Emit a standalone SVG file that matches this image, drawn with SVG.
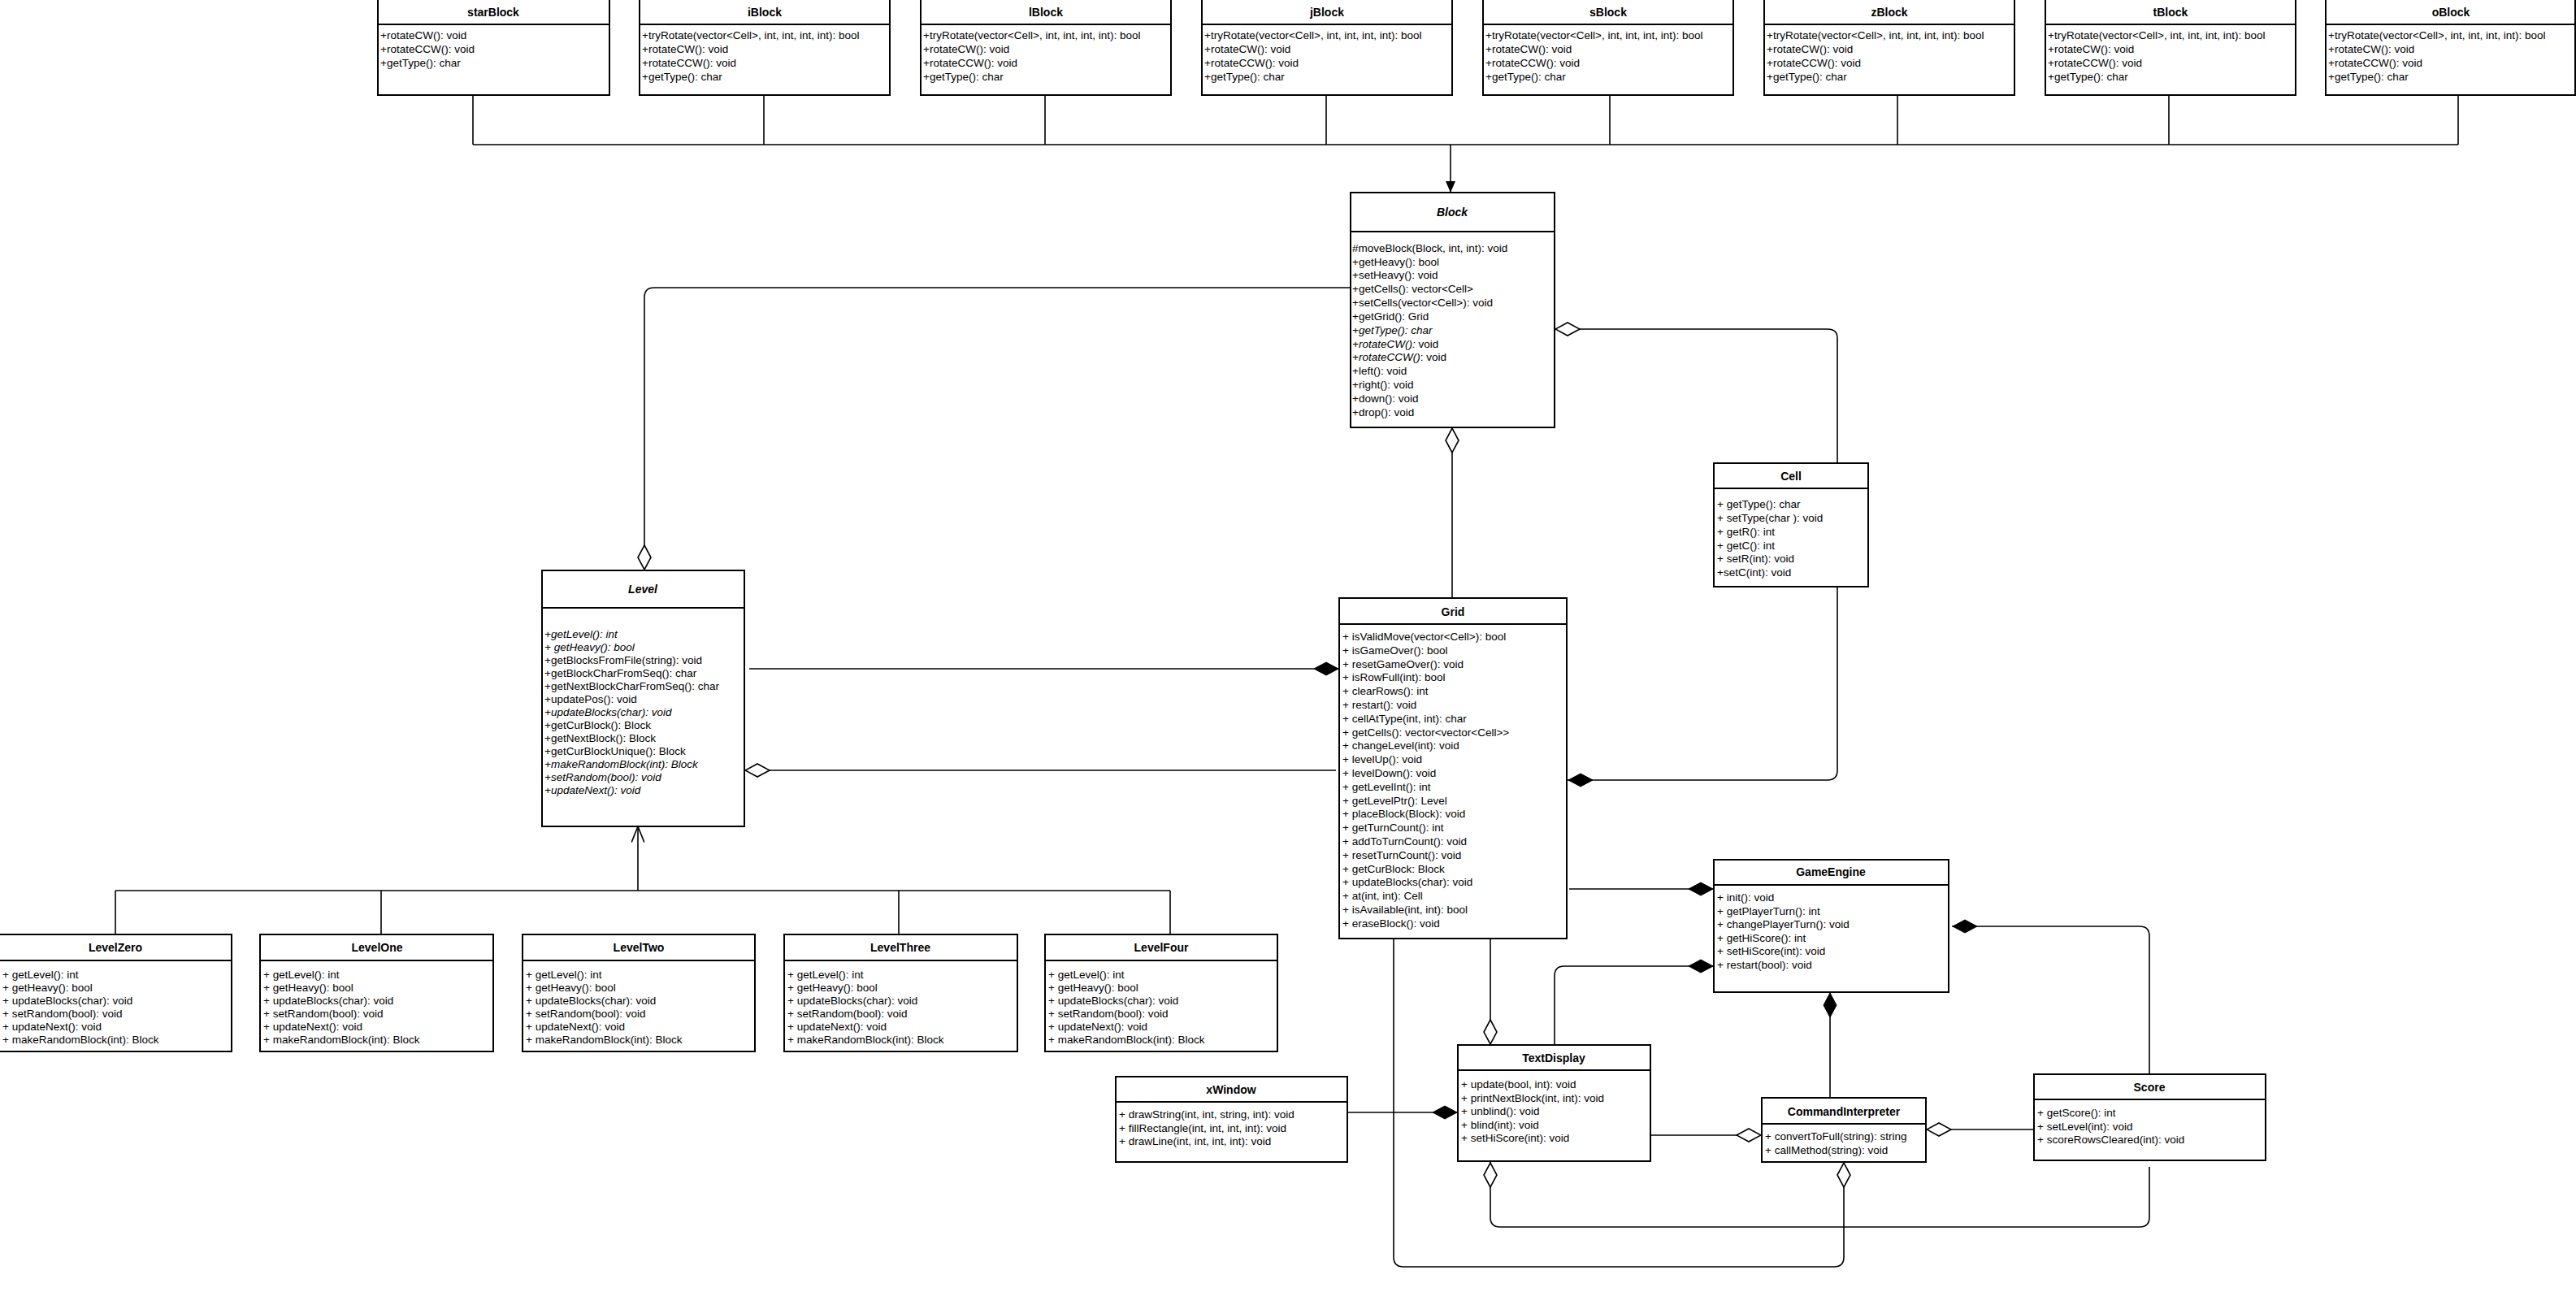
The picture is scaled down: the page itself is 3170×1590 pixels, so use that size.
<svg xmlns="http://www.w3.org/2000/svg" width="3170" height="1590" viewBox="0 0 3170 1590">
<style>
rect.c{fill:#fff;stroke:#000;stroke-width:2}
line.s{stroke:#000;stroke-width:2}
text{font-family:"Liberation Sans",Arial,sans-serif;font-size:13.5px;fill:#000}
text.t{font-weight:bold;font-size:14px;text-anchor:middle}
.i{font-style:italic}
#conn path{fill:none;stroke:#000;stroke-width:1.6}
</style>
<defs>
<marker id="fd" viewBox="0 0 32 18" refX="32" refY="9" markerWidth="32" markerHeight="18" markerUnits="userSpaceOnUse" orient="auto"><path d="M1,9 L16,1 L31,9 L16,17 Z" fill="#000" stroke="#000"/></marker>
<marker id="hd" viewBox="0 0 32 18" refX="32" refY="9" markerWidth="32" markerHeight="18" markerUnits="userSpaceOnUse" orient="auto"><path d="M1,9 L16,1 L31,9 L16,17 Z" fill="#fff" stroke="#000" stroke-width="1.6"/></marker>
<marker id="ar" viewBox="0 0 14 12" refX="14" refY="6" markerWidth="14" markerHeight="12" markerUnits="userSpaceOnUse" orient="auto"><path d="M0,0 L14,6 L0,12 Z" fill="#000"/></marker>
<marker id="oa" viewBox="0 0 20 16" refX="20" refY="8" markerWidth="20" markerHeight="16" markerUnits="userSpaceOnUse" orient="auto"><path d="M0,0 L20,8 L0,16" fill="none" stroke="#000" stroke-width="1.6"/></marker>
</defs>
<rect width="3170" height="1590" fill="#fff"/>
<g id="conn">
<path d="M582,117 V178 M940,117 V178 M1286,117 V178 M1632,117 V178 M1981,117 V178 M2335,117 V178 M2669,117 V178 M3025,117 V178 M582,178 H3025"/>
<path d="M1785,178 V237" marker-end="url(#ar)"/>
<path d="M1662,354 H805 Q793,354 793,366 V702" marker-end="url(#hd)"/>
<path d="M2261,570 V416 Q2261,405 2249,405 H1913" marker-end="url(#hd)"/>
<path d="M1787,736 V526" marker-end="url(#hd)"/>
<path d="M2261,722 V948 Q2261,960 2249,960 H1929" marker-end="url(#fd)"/>
<path d="M922,823 H1648" marker-end="url(#fd)"/>
<path d="M1644,948 H916" marker-end="url(#hd)"/>
<path d="M785,1096 V1017" marker-end="url(#oa)"/>
<path d="M142,1096 H1440 M142,1096 V1150 M469,1096 V1150 M1106,1096 V1150 M1440,1096 V1150"/>
<path d="M1931,1094 H2109" marker-end="url(#fd)"/>
<path d="M1913,1286 V1201 Q1913,1189 1925,1189 H2109" marker-end="url(#fd)"/>
<path d="M1834,1155 V1286" marker-end="url(#hd)"/>
<path d="M1658,1369 H1794" marker-end="url(#fd)"/>
<path d="M2252,1351 V1221" marker-end="url(#fd)"/>
<path d="M2032,1397 H2168" marker-end="url(#hd)"/>
<path d="M2503,1390 H2370" marker-end="url(#hd)"/>
<path d="M2645,1322 V1152 Q2645,1140 2633,1140 H2402" marker-end="url(#fd)"/>
<path d="M2645,1436 V1498 Q2645,1510 2633,1510 H1846 Q1834,1510 1834,1498 V1430" marker-end="url(#hd)"/>
<path d="M1715,1155 V1547 Q1715,1559 1727,1559 H2257 Q2269,1559 2269,1547 V1430" marker-end="url(#hd)"/>
</g>
<g id="starBlock"><rect class="c" x="465" y="-2" width="285" height="119"/><line class="s" x1="465" y1="30" x2="750" y2="30"/><text class="t" x="607" y="20">starBlock</text><text x="468" y="48">+rotateCW(): void</text><text x="468" y="65">+rotateCCW(): void</text><text x="468" y="82">+getType(): char</text></g>
<g id="iBlock"><rect class="c" x="787" y="-2" width="308" height="119"/><line class="s" x1="787" y1="30" x2="1095" y2="30"/><text class="t" x="941" y="20">iBlock</text><text x="790" y="48">+tryRotate(vector&lt;Cell&gt;, int, int, int, int): bool</text><text x="790" y="65">+rotateCW(): void</text><text x="790" y="82">+rotateCCW(): void</text><text x="790" y="99">+getType(): char</text></g>
<g id="lBlock"><rect class="c" x="1133" y="-2" width="308" height="119"/><line class="s" x1="1133" y1="30" x2="1441" y2="30"/><text class="t" x="1287" y="20">lBlock</text><text x="1136" y="48">+tryRotate(vector&lt;Cell&gt;, int, int, int, int): bool</text><text x="1136" y="65">+rotateCW(): void</text><text x="1136" y="82">+rotateCCW(): void</text><text x="1136" y="99">+getType(): char</text></g>
<g id="jBlock"><rect class="c" x="1479" y="-2" width="308" height="119"/><line class="s" x1="1479" y1="30" x2="1787" y2="30"/><text class="t" x="1633" y="20">jBlock</text><text x="1482" y="48">+tryRotate(vector&lt;Cell&gt;, int, int, int, int): bool</text><text x="1482" y="65">+rotateCW(): void</text><text x="1482" y="82">+rotateCCW(): void</text><text x="1482" y="99">+getType(): char</text></g>
<g id="sBlock"><rect class="c" x="1825" y="-2" width="308" height="119"/><line class="s" x1="1825" y1="30" x2="2133" y2="30"/><text class="t" x="1979" y="20">sBlock</text><text x="1828" y="48">+tryRotate(vector&lt;Cell&gt;, int, int, int, int): bool</text><text x="1828" y="65">+rotateCW(): void</text><text x="1828" y="82">+rotateCCW(): void</text><text x="1828" y="99">+getType(): char</text></g>
<g id="zBlock"><rect class="c" x="2171" y="-2" width="308" height="119"/><line class="s" x1="2171" y1="30" x2="2479" y2="30"/><text class="t" x="2325" y="20">zBlock</text><text x="2174" y="48">+tryRotate(vector&lt;Cell&gt;, int, int, int, int): bool</text><text x="2174" y="65">+rotateCW(): void</text><text x="2174" y="82">+rotateCCW(): void</text><text x="2174" y="99">+getType(): char</text></g>
<g id="tBlock"><rect class="c" x="2517" y="-2" width="308" height="119"/><line class="s" x1="2517" y1="30" x2="2825" y2="30"/><text class="t" x="2671" y="20">tBlock</text><text x="2520" y="48">+tryRotate(vector&lt;Cell&gt;, int, int, int, int): bool</text><text x="2520" y="65">+rotateCW(): void</text><text x="2520" y="82">+rotateCCW(): void</text><text x="2520" y="99">+getType(): char</text></g>
<g id="oBlock"><rect class="c" x="2862" y="-2" width="307" height="119"/><line class="s" x1="2862" y1="30" x2="3169" y2="30"/><text class="t" x="3016" y="20">oBlock</text><text x="2865" y="48">+tryRotate(vector&lt;Cell&gt;, int, int, int, int): bool</text><text x="2865" y="65">+rotateCW(): void</text><text x="2865" y="82">+rotateCCW(): void</text><text x="2865" y="99">+getType(): char</text></g>
<g id="Block"><rect class="c" x="1662" y="237" width="251" height="289"/><line class="s" x1="1662" y1="285" x2="1913" y2="285"/><text class="t i" x="1787" y="266">Block</text>
<text x="1664" y="310">#moveBlock(Block, int, int): void</text><text x="1664" y="327">+getHeavy(): bool</text><text x="1664" y="343">+setHeavy(): void</text><text x="1664" y="360">+getCells(): vector&lt;Cell&gt;</text><text x="1664" y="377">+setCells(vector&lt;Cell&gt;): void</text><text x="1664" y="394">+getGrid(): Grid</text><text x="1664" y="411" class="i">+getType(): char</text><text x="1664" y="428"><tspan class="i">+rotateCW():</tspan> void</text><text x="1664" y="444"><tspan class="i">+rotateCCW()</tspan>: void</text><text x="1664" y="461">+left(): void</text><text x="1664" y="478">+right(): void</text><text x="1664" y="495">+down(): void</text><text x="1664" y="512">+drop(): void</text></g>
<g id="Cell"><rect class="c" x="2109" y="570" width="190" height="152"/><line class="s" x1="2109" y1="601" x2="2299" y2="601"/><text class="t" x="2204" y="591">Cell</text>
<text x="2113" y="625">+ getType(): char</text><text x="2113" y="642">+ setType(char ): void</text><text x="2113" y="659">+ getR(): int</text><text x="2113" y="676">+ getC(): int</text><text x="2113" y="692">+ setR(int): void</text><text x="2113" y="709">+setC(int): void</text></g>
<g id="Level"><rect class="c" x="667" y="702" width="249" height="315"/><line class="s" x1="667" y1="748" x2="916" y2="748"/><text class="t i" x="791" y="730">Level</text>
<text x="670" y="785" class="i">+getLevel(): int</text><text x="670" y="801" class="i">+ getHeavy(): bool</text><text x="670" y="817">+getBlocksFromFile(string): void</text><text x="670" y="833">+getBlockCharFromSeq(): char</text><text x="670" y="849">+getNextBlockCharFromSeq(): char</text><text x="670" y="865">+updatePos(): void</text><text x="670" y="881" class="i">+updateBlocks(char): void</text><text x="670" y="897">+getCurBlock(): Block</text><text x="670" y="913">+getNextBlock(): Block</text><text x="670" y="929">+getCurBlockUnique(): Block</text><text x="670" y="945" class="i">+makeRandomBlock(int): Block</text><text x="670" y="961" class="i">+setRandom(bool): void</text><text x="670" y="977" class="i">+updateNext(): void</text></g>
<g id="Grid"><rect class="c" x="1648" y="736" width="280" height="419"/><line class="s" x1="1648" y1="768" x2="1928" y2="768"/><text class="t" x="1788" y="758">Grid</text>
<text x="1652" y="788">+ isValidMove(vector&lt;Cell&gt;): bool</text><text x="1652" y="805">+ isGameOver(): bool</text><text x="1652" y="822">+ resetGameOver(): void</text><text x="1652" y="838">+ isRowFull(int): bool</text><text x="1652" y="855">+ clearRows(): int</text><text x="1652" y="872">+ restart(): void</text><text x="1652" y="889">+ cellAtType(int, int): char</text><text x="1652" y="906">+ getCells(): vector&lt;vector&lt;Cell&gt;&gt;</text><text x="1652" y="922">+ changeLevel(int): void</text><text x="1652" y="939">+ levelUp(): void</text><text x="1652" y="956">+ levelDown(): void</text><text x="1652" y="973">+ getLevelInt(): int</text><text x="1652" y="990">+ getLevelPtr(): Level</text><text x="1652" y="1006">+ placeBlock(Block): void</text><text x="1652" y="1023">+ getTurnCount(): int</text><text x="1652" y="1040">+ addToTurnCount(): void</text><text x="1652" y="1057">+ resetTurnCount(): void</text><text x="1652" y="1074">+ getCurBlock: Block</text><text x="1652" y="1090">+ updateBlocks(char): void</text><text x="1652" y="1107">+ at(int, int): Cell</text><text x="1652" y="1124">+ isAvailable(int, int): bool</text><text x="1652" y="1141">+ eraseBlock(): void</text></g>
<g id="LevelZero"><rect class="c" x="-2" y="1150" width="287" height="144"/><line class="s" x1="-2" y1="1182" x2="285" y2="1182"/><text class="t" x="142" y="1171">LevelZero</text><text x="3" y="1204">+ getLevel(): int</text><text x="3" y="1220">+ getHeavy(): bool</text><text x="3" y="1236">+ updateBlocks(char): void</text><text x="3" y="1252">+ setRandom(bool): void</text><text x="3" y="1268">+ updateNext(): void</text><text x="3" y="1284">+ makeRandomBlock(int): Block</text></g>
<g id="LevelOne"><rect class="c" x="320" y="1150" width="287" height="144"/><line class="s" x1="320" y1="1182" x2="607" y2="1182"/><text class="t" x="464" y="1171">LevelOne</text><text x="324" y="1204">+ getLevel(): int</text><text x="324" y="1220">+ getHeavy(): bool</text><text x="324" y="1236">+ updateBlocks(char): void</text><text x="324" y="1252">+ setRandom(bool): void</text><text x="324" y="1268">+ updateNext(): void</text><text x="324" y="1284">+ makeRandomBlock(int): Block</text></g>
<g id="LevelTwo"><rect class="c" x="643" y="1150" width="286" height="144"/><line class="s" x1="643" y1="1182" x2="929" y2="1182"/><text class="t" x="786" y="1171">LevelTwo</text><text x="647" y="1204">+ getLevel(): int</text><text x="647" y="1220">+ getHeavy(): bool</text><text x="647" y="1236">+ updateBlocks(char): void</text><text x="647" y="1252">+ setRandom(bool): void</text><text x="647" y="1268">+ updateNext(): void</text><text x="647" y="1284">+ makeRandomBlock(int): Block</text></g>
<g id="LevelThree"><rect class="c" x="965" y="1150" width="287" height="144"/><line class="s" x1="965" y1="1182" x2="1252" y2="1182"/><text class="t" x="1108" y="1171">LevelThree</text><text x="969" y="1204">+ getLevel(): int</text><text x="969" y="1220">+ getHeavy(): bool</text><text x="969" y="1236">+ updateBlocks(char): void</text><text x="969" y="1252">+ setRandom(bool): void</text><text x="969" y="1268">+ updateNext(): void</text><text x="969" y="1284">+ makeRandomBlock(int): Block</text></g>
<g id="LevelFour"><rect class="c" x="1286" y="1150" width="286" height="144"/><line class="s" x1="1286" y1="1182" x2="1572" y2="1182"/><text class="t" x="1429" y="1171">LevelFour</text><text x="1290" y="1204">+ getLevel(): int</text><text x="1290" y="1220">+ getHeavy(): bool</text><text x="1290" y="1236">+ updateBlocks(char): void</text><text x="1290" y="1252">+ setRandom(bool): void</text><text x="1290" y="1268">+ updateNext(): void</text><text x="1290" y="1284">+ makeRandomBlock(int): Block</text></g>
<g id="GameEngine"><rect class="c" x="2109" y="1058" width="289" height="163"/><line class="s" x1="2109" y1="1089" x2="2398" y2="1089"/><text class="t" x="2253" y="1078">GameEngine</text><text x="2113" y="1109">+ init(): void</text><text x="2113" y="1126">+ getPlayerTurn(): int</text><text x="2113" y="1142">+ changePlayerTurn(): void</text><text x="2113" y="1159">+ getHiScore(): int</text><text x="2113" y="1175">+ setHiScore(int): void</text><text x="2113" y="1192">+ restart(bool): void</text></g>
<g id="TextDisplay"><rect class="c" x="1794" y="1286" width="237" height="143"/><line class="s" x1="1794" y1="1317" x2="2031" y2="1317"/><text class="t" x="1912" y="1307">TextDisplay</text><text x="1798" y="1339">+ update(bool, int): void</text><text x="1798" y="1356">+ printNextBlock(int, int): void</text><text x="1798" y="1372">+ unblind(): void</text><text x="1798" y="1389">+ blind(int): void</text><text x="1798" y="1405">+ setHiScore(int): void</text></g>
<g id="xWindow"><rect class="c" x="1373" y="1325" width="285" height="105"/><line class="s" x1="1373" y1="1356" x2="1658" y2="1356"/><text class="t" x="1515" y="1346">xWindow</text><text x="1377" y="1376">+ drawString(int, int, string, int): void</text><text x="1377" y="1393">+ fillRectangle(int, int, int, int): void</text><text x="1377" y="1409">+ drawLine(int, int, int, int): void</text></g>
<g id="CommandInterpreter"><rect class="c" x="2168" y="1351" width="202" height="79"/><line class="s" x1="2168" y1="1383" x2="2370" y2="1383"/><text class="t" x="2269" y="1373">CommandInterpreter</text><text x="2172" y="1403">+ convertToFull(string): string</text><text x="2172" y="1420">+ callMethod(string): void</text></g>
<g id="Score"><rect class="c" x="2503" y="1322" width="285" height="106"/><line class="s" x1="2503" y1="1353" x2="2788" y2="1353"/><text class="t" x="2645" y="1343">Score</text><text x="2507" y="1374">+ getScore(): int</text><text x="2507" y="1391">+ setLevel(int): void</text><text x="2507" y="1407">+ scoreRowsCleared(int): void</text></g>
</svg>
